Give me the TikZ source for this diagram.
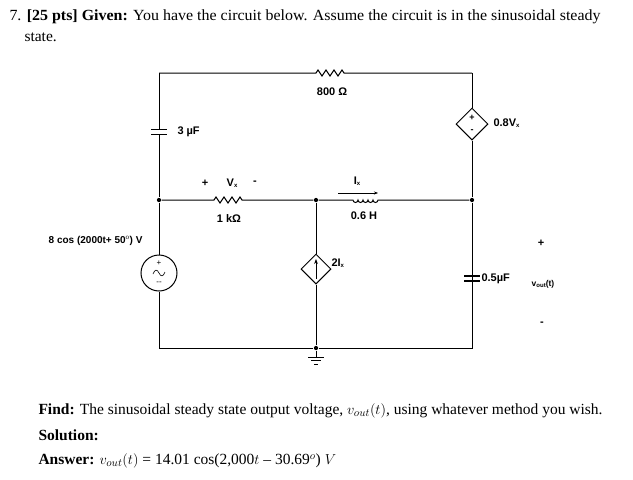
\documentclass[tikz,border=0pt]{standalone}
\usepackage{fontspec}
\setmainfont{Liberation Serif}
\newfontfamily\arial{Liberation Sans}
\usetikzlibrary{shapes.geometric,arrows.meta}
\newcommand{\sbx}[1]{\raisebox{-0.25ex}{\fontsize{6}{6}\selectfont #1}}
\begin{document}
\begin{tikzpicture}[x=1pt,y=-1pt,line width=1pt,
  lab/.style={font=\arial\bfseries\fontsize{11}{12}\selectfont,inner sep=0pt},
  txt/.style={font=\fontsize{15.5}{17}\selectfont,anchor=west,inner sep=0pt},
  dot/.style={circle,fill,inner sep=1.5pt}]
\useasboundingbox (0,0) rectangle (633,480);
% text
\node[txt,xscale=1.03,anchor=west] at (9,17) {7. \textbf{[25 pts] Given:} You have the circuit below. Assume the circuit is in the sinusoidal steady};
\node[txt] at (24,37) {state.};
\node[txt] at (38,411) {\textbf{Find:} The sinusoidal steady state output voltage, $v_{out}(t)$, using whatever method you wish.};
\node[txt] at (38,435) {\textbf{Solution:}};
\node[txt] at (38,461) {\textbf{Answer:} $v_{out}(t)$ = 14.01 cos(2,000$t$ -- 30.69$^o$) $V$};
% nodes
\coordinate (TL) at (159,73); \coordinate (TR) at (472,73);
\node[dot] (ML) at (159,200) {}; \node[dot] (MM) at (316,200) {}; \node[dot] (MR) at (472,200) {};
\coordinate (BL) at (159,348); \coordinate (BR) at (472,348);
\node[dot] (BM) at (316,348) {};
% top wire with 800 ohm
\draw (TL) -- (316,73) -- ++(2,-3) -- ++(4,6) -- ++(4,-6) -- ++(4,6) -- ++(4,-6) -- ++(4,6) -- ++(4,-6) -- ++(2,3) -- (TR);
\node[lab] (r800) at (332,92) {800 Ω};
% left branch: 3uF cap
\draw (TL) -- (159,129.5); \draw (159,134.5) -- (ML);
\draw[line width=1.6pt] (151,129.5) -- (167,129.5) (151,134.5) -- (167,134.5);
\node[lab,anchor=west] (c3) at (177,132) {3 µF};
% source
\node[circle,draw,minimum size=36pt,inner sep=0pt] (vs) at (159,273) {};
\draw (ML) -- (vs.north); \draw (vs.south) -- (BL);
\node[font=\arial\fontsize{8}{8}\selectfont] at (159,263) {+};
\node[font=\arial\fontsize{8}{8}\selectfont] at (159,283) {--};
\draw[line width=0.6pt] (153,274) .. controls (155,269) and (157,269) .. (159,273) .. controls (161,277) and (163,277) .. (165,272);
\node[lab,anchor=east,font=\arial\bfseries\fontsize{10}{11}\selectfont] (vsl) at (143,241) {8 cos (2000t+ 50$^{\mathrm{o}}$) V};
% bottom
\draw (BL) -- (BM) -- (BR) -- (MR);
% ground
\draw (BM) -- (316,357);
\draw (308,357) -- (324,357) (311,360.5) -- (321,360.5) (314,364) -- (318,364);
% middle: 1k resistor
\draw (ML) -- (214,200) -- ++(2,-3) -- ++(4,6) -- ++(4,-6) -- ++(4,6) -- ++(4,-6) -- ++(4,6) -- ++(4,-6) -- ++(2,3) -- (MM);
\node[lab] (r1k) at (229,219) {1 kΩ};
\node[lab] at (205,183) {+};
\node[lab] at (232,183) {V\sbx{x}};
\node[lab] at (255,183) {-};
% inductor
\draw (MM) -- (353,200) \foreach \i in {0,1,2,3,4} { arc (180:0:2.5) } -- (MR);
\draw[-{Stealth[length=4pt]},line width=0.5pt] (338,193) -- (378,193);
\node[lab] at (357,181) {I\sbx{x}};
\node[lab] (l06) at (364,216) {0.6 H};
% dependent current source
\node[diamond,draw,minimum size=30pt,inner sep=0pt] (cs) at (316,269) {};
\draw (MM) -- (cs.north); \draw (cs.south) -- (BM);
\draw[-{Stealth[length=5pt]}] (316,279) -- (316,259);
\node[lab,anchor=west] at (331,263) {2I\sbx{x}};
% dependent voltage source
\node[diamond,draw,minimum size=32pt,inner sep=0pt] (vd) at (472,124) {};
\draw (TR) -- (vd.north); \draw (vd.south) -- (MR);
\node[font=\arial\bfseries\fontsize{9}{9}\selectfont] at (472,118) {+};
\node[font=\arial\bfseries\fontsize{9}{9}\selectfont] at (472,131) {-};
\node[lab,anchor=west] at (493,123) {0.8V\sbx{x}};
% 0.5uF cap
\draw (MR) -- (472,276); \draw (472,281) -- (BR);
\draw[line width=1.6pt] (464,276) -- (480,276) (464,281) -- (480,281);
\node[lab,anchor=west] at (481,279) {0.5µF};
\node[lab] at (541,243) {+};
\node[lab,font=\arial\bfseries\fontsize{8.5}{9}\selectfont] at (543,284) {v\sbx{out}(t)};
\node[lab] at (542,324) {-};
\end{tikzpicture}
\end{document}
